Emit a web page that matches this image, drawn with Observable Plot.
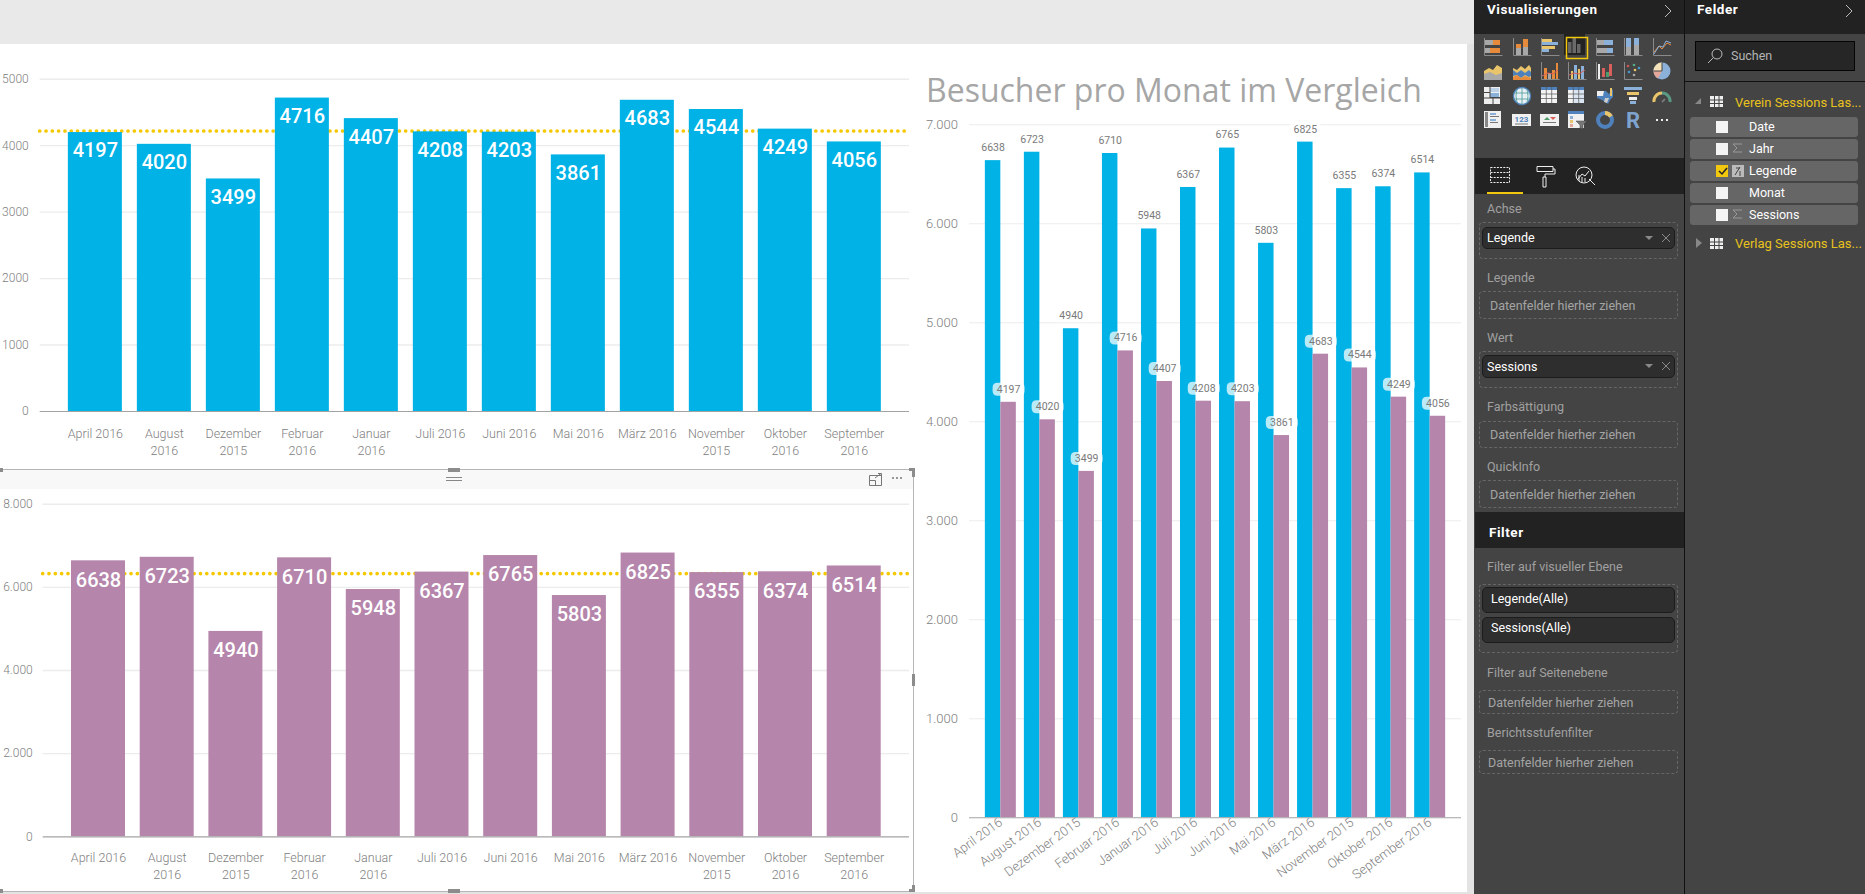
<!DOCTYPE html>
<html lang="de">
<head>
<meta charset="utf-8">
<title>Besucher pro Monat im Vergleich</title>
<script src="https://cdn.jsdelivr.net/npm/d3@7"></script>
<script src="https://cdn.jsdelivr.net/npm/@observablehq/plot@0.6"></script>
<style>
html,body{margin:0;padding:0;background:#e9e9e9;}
#page{position:relative;width:1865px;height:894px;overflow:hidden;background:#e3e3e3;font-family:Roboto,sans-serif;}
#page>*{position:absolute;}
.abs{position:absolute;box-sizing:border-box;}
.t{position:absolute;white-space:nowrap;transform:translateY(-50%);font-family:Roboto,sans-serif;font-size:12.5px;line-height:1;}
.lab{color:#a0a0a0;}
.hint{color:#a4a4a4;}
.dash{position:absolute;box-sizing:border-box;border:1px dashed #666;border-radius:4px;}
.pill{position:absolute;box-sizing:border-box;background:#2e2e2e;border:1px solid #1c1c1c;border-radius:5px;}
.row{position:absolute;box-sizing:border-box;left:1690px;width:168px;height:20px;background:#666;border-radius:3px;}
.cb{position:absolute;left:1716px;width:12px;height:12px;background:#f4f4f4;}
.h{position:absolute;background:#8c8c8c;}
svg{display:block;}
</style>
</head>
<body>
<div id="page"></div>
<script>
// ---------- data ----------
const months = ["April 2016","August 2016","Dezember 2015","Februar 2016","Januar 2016","Juli 2016","Juni 2016","Mai 2016","März 2016","November 2015","Oktober 2016","September 2016"];
const wrappedMonths = ["April 2016","August\n2016","Dezember\n2015","Februar\n2016","Januar\n2016","Juli 2016","Juni 2016","Mai 2016","März 2016","November\n2015","Oktober\n2016","September\n2016"];
const vereinSessions = [4197,4020,3499,4716,4407,4208,4203,3861,4683,4544,4249,4056];
const verlagSessions = [6638,6723,4940,6710,5948,6367,6765,5803,6825,6355,6374,6514];
const ticksTop = [0,1000,2000,3000,4000,5000];
const ticksBottom = [0,2000,4000,6000,8000];
const ticksCompare = [0,1000,2000,3000,4000,5000,6000,7000];

const BLUE = "#01b2e6", PURPLE = "#b585ab", GOLD = "#f5c800", GRID = "#ececec", AXIS = "#a3a3a3", TICK = "#808080";
const FONT = "Roboto, sans-serif";
const de = d3.formatLocale({thousands:".",grouping:[3],decimal:","}).format(",");
const wrapOf = new Map(months.map((m,i)=>[m,wrappedMonths[i]]));
const rows = months.map((m,i)=>({month:m, verein:vereinSessions[i], verlag:verlagSessions[i]}));
const page = document.getElementById("page");

function place(el,left,top){el.style.left=left+"px";el.style.top=top+"px";el.style.position="absolute";page.appendChild(el);return el;}
function add(html){const d=document.createElement("div");d.innerHTML=html;while(d.firstChild)page.appendChild(d.firstChild);}

// ---------- page chrome behind charts ----------
add(`<div class="abs" style="left:0;top:0;width:1474px;height:44px;background:#e9e9e9"></div>
<div class="abs" style="left:0;top:44px;width:1467px;height:848px;background:#fff"></div>
<div class="abs" style="left:0;top:469px;width:914px;height:20px;background:#f8f8f8"></div>`);

// ---------- single-series column chart ----------
function columns({key,color,domain,ticks,fmt,left,top,width,height,mt,mb,ml,mr,pi,po,tickPad,xPad,labelDy}){
  const mean = d3.mean(rows,d=>d[key]);
  const p = Plot.plot({
    width,height,marginTop:mt,marginBottom:mb,marginLeft:ml,marginRight:mr,
    style:{background:"transparent",fontFamily:FONT,overflow:"visible"},
    x:{domain:months,paddingInner:pi,paddingOuter:po,round:false,label:null},
    y:{domain,label:null},
    marks:[
      Plot.ruleY(ticks.filter(t=>t>0),{stroke:GRID,strokeWidth:1.4}),
      Plot.ruleY([mean],{stroke:GOLD,strokeWidth:3.7,strokeDasharray:"0.01,6.3",strokeLinecap:"round"}),
      Plot.barY(rows,{x:"month",y:key,fill:color}),
      Plot.ruleY([0],{stroke:AXIS,strokeWidth:1.2}),
      Plot.text(rows,{x:"month",y:key,text:d=>String(d[key]),dy:labelDy,lineAnchor:"middle",fill:"#fff",fontSize:20,fontWeight:500}),
      Plot.axisY({ticks,tickFormat:fmt,tickSize:0,tickPadding:tickPad,fontSize:12,fontWeight:300,fill:TICK,label:null}),
      Plot.axisX({tickSize:0,tickPadding:xPad,tickFormat:d=>wrapOf.get(d),fontSize:12.5,fontWeight:300,fill:TICK,lineHeight:1.36,label:null})
    ]
  });
  place(p,left,top);
}

columns({key:"verein",color:BLUE,domain:[0,5000],ticks:ticksTop,fmt:d3.format("d"),
  left:0,top:60,width:914,height:405,mt:18.7,mb:54,ml:39.7,mr:5,pi:0.217,po:0.408,tickPad:11.5,xPad:14,labelDy:18.5});
columns({key:"verlag",color:PURPLE,domain:[0,8000],ticks:ticksBottom,fmt:de,
  left:0,top:490,width:914,height:400,mt:13.7,mb:53.7,ml:42.7,mr:5,pi:0.214,po:0.412,tickPad:10.5,xPad:13,labelDy:19.3});

// ---------- compared column chart ----------
const pillW = 32, pillH = 13;
const pill = {draw(ctx){
  const w=pillW/2,h=pillH/2,r=5;
  ctx.moveTo(-w+r,-h);ctx.lineTo(w-r,-h);ctx.quadraticCurveTo(w,-h,w,-h+r);ctx.lineTo(w,h-r);ctx.quadraticCurveTo(w,h,w-r,h);
  ctx.lineTo(-w+r,h);ctx.quadraticCurveTo(-w,h,-w,h-r);ctx.lineTo(-w,-h+r);ctx.quadraticCurveTo(-w,-h,-w+r,-h);ctx.closePath();
}};
const shift = 7.75;
const compare = Plot.plot({
  width:550,height:785,marginTop:19.3,marginBottom:72.7,marginLeft:55,marginRight:3,
  style:{background:"transparent",fontFamily:FONT,overflow:"visible"},
  x:{domain:months,paddingInner:0.603,paddingOuter:0.6045,round:false,label:null},
  y:{domain:[0,7000],label:null},
  marks:[
    Plot.ruleY(ticksCompare.filter(t=>t>0),{stroke:GRID,strokeWidth:1.1}),
    Plot.barY(rows,{x:"month",y:"verlag",fill:BLUE,dx:-shift}),
    Plot.barY(rows,{x:"month",y:"verein",fill:PURPLE,dx:shift}),
    Plot.ruleY([0],{stroke:AXIS,strokeWidth:1.1}),
    Plot.dot(rows,{x:"month",y:"verlag",symbol:pill,fill:"#fff",fillOpacity:0.75,stroke:"none",dx:-shift,dy:-13}),
    Plot.dot(rows,{x:"month",y:"verein",symbol:pill,fill:"#fff",fillOpacity:0.72,stroke:"none",dx:shift,dy:-13}),
    Plot.text(rows,{x:"month",y:"verlag",text:d=>String(d.verlag),dx:-shift,dy:-13,lineAnchor:"middle",fill:"#7a7a7a",fontSize:10.5,fontWeight:400}),
    Plot.text(rows,{x:"month",y:"verein",text:d=>String(d.verein),dx:shift,dy:-13,lineAnchor:"middle",fill:"#7a7a7a",fontSize:10.5,fontWeight:400}),
    Plot.axisY({ticks:ticksCompare,tickFormat:de,tickSize:0,tickPadding:11.5,fontSize:13,fontWeight:300,fill:TICK,label:null}),
    Plot.axisX({tickSize:0,tickPadding:3,tickRotate:-36,fontSize:13,fontWeight:300,fill:TICK,label:null})
  ]
});
place(compare,914,105);

add(`<div class="t" style="left:926px;top:90px;font-family:'Open Sans',sans-serif;font-weight:400;font-size:32px;color:#a6a6a6;">Besucher pro Monat im Vergleich</div>`);

// ---------- selection frame ----------
add(`<div class="abs" style="left:0;top:469px;width:914px;height:423px;border-top:1px solid #b5b5b5;border-bottom:1px solid #b5b5b5;border-right:1px solid #b5b5b5"></div>
<div class="h" style="left:448px;top:468px;width:12px;height:4px"></div>
<div class="h" style="left:448px;top:889px;width:12px;height:4px"></div>
<div class="h" style="left:912px;top:674px;width:3px;height:12px"></div>
<div class="h" style="left:0;top:468px;width:3px;height:4px"></div>
<div class="h" style="left:0;top:889px;width:3px;height:4px"></div>
<div class="h" style="left:909px;top:468px;width:6px;height:3px"></div>
<div class="h" style="left:912px;top:468px;width:3px;height:9px"></div>
<div class="h" style="left:909px;top:889px;width:6px;height:3px"></div>
<div class="h" style="left:912px;top:885px;width:3px;height:7px"></div>
<div class="abs" style="left:446px;top:477px;width:16px;height:4px;border-top:1px solid #888;border-bottom:1px solid #888"></div>
<svg style="position:absolute;left:868px;top:472px" width="40" height="14" viewBox="0 0 40 14" fill="none" stroke="#777">
<path d="M1.5 3.5h12v10h-12zM1.5 8.5h6v5M7 6l6-4.5M10 1.5h3.5v3"/><g fill="#777" stroke="none"><circle cx="25" cy="6" r="1"/><circle cx="29" cy="6" r="1"/><circle cx="33" cy="6" r="1"/></g></svg>`);

// ---------- side panels ----------
const hint = "Datenfelder hierher ziehen";
add(`<div class="abs" style="left:1474px;top:0;width:391px;height:894px;background:#444"></div>
<div class="abs" style="left:1474px;top:0;width:391px;height:34px;background:#222"></div>
<div class="abs" style="left:1684px;top:0;width:1px;height:894px;background:#111"></div>
<div class="t" style="left:1487px;top:10px;color:#fff;font-weight:700;font-family:Roboto,sans-serif;font-size:13.5px;letter-spacing:.55px">Visualisierungen</div>
<div class="t" style="left:1697px;top:10px;color:#fff;font-weight:700;font-family:Roboto,sans-serif;font-size:13.5px;letter-spacing:.55px">Felder</div>
<svg style="position:absolute;left:1664px;top:4px" width="190" height="14" fill="none" stroke="#bbb"><path d="M1 1l6 6-6 6M182 1l6 6-6 6"/></svg>
<div class="abs" style="left:1685px;top:34px;width:180px;height:48px;background:#444;border-bottom:1px solid #111"></div>
<div class="abs" style="left:1695px;top:41px;width:160px;height:30px;background:#262626;border:1px solid #050505"></div>
<svg style="position:absolute;left:1706px;top:47px" width="18" height="18" fill="none" stroke="#bbb"><circle cx="11" cy="7" r="5"/><path d="M7.5 10.5L2 16"/></svg>
<div class="t" style="left:1731px;top:56px;color:#b5b5b5">Suchen</div>

<div class="abs" style="left:1475px;top:158px;width:209px;height:36px;background:#222"></div>
<div class="abs" style="left:1487px;top:192px;width:36px;height:2px;background:#f2c80f"></div>
<svg style="position:absolute;left:1490px;top:164px" width="110" height="24" fill="none" stroke="#eee">
<path d="M0.5 3.5h19v15h-19z" stroke-dasharray="2 1.2"/><path d="M0.5 8.5h19M0.5 13.5h19" stroke-dasharray="2 1.2"/>
<path d="M47 2.5h16v5h-16zM63 5h2v5h-10v3M53 13h3v10h-3z" stroke="#eee"/>
<circle cx="94" cy="11" r="8"/><path d="M88 15l4-5 3 2 4-5M89 11v6M92 13v5M95 14v4M99 15l6 6"/></svg>

<div class="t lab" style="left:1487px;top:209px">Achse</div>
<div class="dash" style="left:1479px;top:222px;width:199px;height:37px"></div>
<div class="pill" style="left:1482px;top:227px;width:193px;height:22px"></div>
<div class="t" style="left:1487px;top:238px;color:#fff">Legende</div>

<div class="t lab" style="left:1487px;top:278px">Legende</div>
<div class="dash" style="left:1479px;top:291px;width:199px;height:28px"></div>
<div class="t hint" style="left:1490px;top:306px">${hint}</div>

<div class="t lab" style="left:1487px;top:338px">Wert</div>
<div class="dash" style="left:1479px;top:351px;width:199px;height:37px"></div>
<div class="pill" style="left:1482px;top:355px;width:193px;height:23px"></div>
<div class="t" style="left:1487px;top:367px;color:#fff">Sessions</div>

<div class="t lab" style="left:1487px;top:407px">Farbsättigung</div>
<div class="dash" style="left:1479px;top:421px;width:199px;height:27px"></div>
<div class="t hint" style="left:1490px;top:435px">${hint}</div>

<div class="t lab" style="left:1487px;top:467px">QuickInfo</div>
<div class="dash" style="left:1479px;top:480px;width:199px;height:28px"></div>
<div class="t hint" style="left:1490px;top:495px">${hint}</div>

<div class="abs" style="left:1475px;top:512px;width:209px;height:36px;background:#222"></div>
<div class="t" style="left:1489px;top:533px;color:#fff;font-weight:700;font-family:Roboto,sans-serif;font-size:13.5px;letter-spacing:.55px">Filter</div>

<div class="t lab" style="left:1487px;top:567px">Filter auf visueller Ebene</div>
<div class="dash" style="left:1479px;top:584px;width:199px;height:69px"></div>
<div class="pill" style="left:1482px;top:587px;width:193px;height:26px"></div>
<div class="pill" style="left:1482px;top:617px;width:193px;height:26px"></div>
<div class="t" style="left:1491px;top:599px;color:#fff">Legende(Alle)</div>
<div class="t" style="left:1491px;top:628px;color:#fff">Sessions(Alle)</div>

<div class="t lab" style="left:1487px;top:673px">Filter auf Seitenebene</div>
<div class="dash" style="left:1479px;top:690px;width:199px;height:24px"></div>
<div class="t hint" style="left:1488px;top:703px">${hint}</div>

<div class="t lab" style="left:1487px;top:733px">Berichtsstufenfilter</div>
<div class="dash" style="left:1479px;top:750px;width:199px;height:24px"></div>
<div class="t hint" style="left:1488px;top:763px">${hint}</div>

<svg style="position:absolute;left:1640px;top:230px" width="36" height="150" fill="none" stroke="#8a8a8a">
<path d="M5 6h8l-4 4z" fill="#8a8a8a" stroke="none"/><path d="M22 4l8 8M30 4l-8 8"/>
<path d="M5 134h8l-4 4z" fill="#8a8a8a" stroke="none"/><path d="M22 132l8 8M30 132l-8 8"/></svg>

<div class="t" style="left:1735px;top:102px;color:#e8c21c;font-size:13px">Verein Sessions Las...</div>
<div class="t" style="left:1735px;top:243px;color:#e8c21c;font-size:13px">Verlag Sessions Las...</div>
<svg style="position:absolute;left:1694px;top:96px" width="30" height="156">
<path d="M7 2v6h-6z" fill="#888"/><path d="M2 142l6 5-6 5z" fill="#888"/>
<g id="tbl"><rect x="16" y="0" width="13" height="11" fill="#eee"/><path d="M16 4h13M16 7.500h13M20.500 0v11M25 0v11" stroke="#444"/></g>
<g transform="translate(0,142)"><rect x="16" y="0" width="13" height="11" fill="#eee"/><path d="M16 4h13M16 7.500h13M20.500 0v11M25 0v11" stroke="#444"/></g></svg>
${[["Date",117],["Jahr",139],["Legende",161],["Monat",183],["Sessions",205]].map(([n,y])=>`
<div class="row" style="top:${y}px"></div>
<div class="cb" style="top:${y+4}px;${n==="Legende"?"background:#f2c80f":""}"></div>
<div class="t" style="left:1749px;top:${y+10}px;color:#fff">${n}</div>`).join("")}
<svg style="position:absolute;left:1716px;top:139px" width="30" height="90" fill="none">
<path d="M3 32l3 3 5-6" stroke="#222" stroke-width="1.5"/>
<path d="M26 5h-9l4 4-4 4h9M26 71h-9l4 4-4 4h9" stroke="#999"/>
<rect x="16" y="26" width="12" height="12" fill="#bbb"/><path d="M19 36l5-8M20 29h4M24 32v5" stroke="#444"/></svg>`);

// ---------- visualisation icon palette ----------
const O="#e68a3c",B="#8bb0d9",G="#a8a8a8",W="#f0f0f0",Y="#e9c46a",D="#8a8a8a";
const r=(x,y,w,h,f)=>`<rect x="${x}" y="${y}" width="${w}" height="${h}" fill="${f}"/>`;
const base=`<path d="M0.500 0v17.500h18" stroke="${D}" fill="none"/>`;
const grid=(f,hd)=>r(0,0,16,16,"#f4f4f4")+(hd?r(0,0,16,3,hd):"")+`<path d="M0 ${hd?7:5.300}h16M0 11.500h16M5.300 0v16M10.700 0v16" stroke="#555" stroke-width=".7"/>`;
const icons=[
 base+r(1,2,8,5,G)+r(9,2,7,5,O)+r(1,10,5,5,G)+r(6,10,10,5,O),
 base+r(3,10,5,7,G)+r(3,6,5,4,O)+r(10,9,5,8,G)+r(10,1,5,8,O),
 base+r(1,1,10,3,Y)+r(1,4,16,3,B)+r(1,8,13,3,Y)+r(1,11,7,3,B),
 r(-4,-4,21,21,"#222")+r(0,4,3.500,11,"#666")+r(4.500,0,3.500,15,"#6a6a6a")+r(9,6,3.500,9,"#666"),
 base+r(1,2,7,5,G)+r(8,2,9,5,B)+r(1,10,10,5,G)+r(11,10,6,5,B),
 base+r(2,9,5,8,G)+r(2,0,5,9,B)+r(10,7,5,10,G)+r(10,0,5,7,B),
 base+`<path d="M1 14l5-6 3 3 5-6 4 2" stroke="${O}" fill="none"/><path d="M1 16l5-8 4 1 3-6 5 2" stroke="${B}" fill="none"/>`,
 `<path d="M0 18V9l5-3 4 2 4-5 5 3v12z" fill="${Y}"/><path d="M0 18v-6l6-2 6 3 6-2v7z" fill="${G}"/>`,
 `<path d="M0 18V6l4 2 4-4 4 3 4-4 2 3v12z" fill="${Y}"/><path d="M0 14V8l4 3 4-3 4 3 4-3 2 2v4l-2 1-4-2-4 3-4-3z" fill="#4f81bd"/><path d="M0 18v-3l4-2 4 3 4-2 6 2v2z" fill="${O}"/>`,
 base+r(3,6,3,11,O)+r(7,11,3,6,G)+r(11,8,3,9,O)+r(15,1,2,16,O)+`<path d="M1 14l6-3 5 1 5-4" stroke="#d9605a" fill="none"/>`,
 base+r(3,9,2,8,Y)+r(6,3,3,14,B)+r(10,7,2,10,Y)+r(13,4,3,13,B)+`<path d="M1 13l5-2 5 1 6-4" stroke="#d9605a" fill="none"/>`,
 base+r(2,2,2,15,W)+r(6,6,3,9,"#d9605a")+r(10,10,3,5,"#4f9a6a")+r(13,2,3,12,"#d9605a"),
 base+`<circle cx="4" cy="4" r="1.300" fill="#c55"/><circle cx="10" cy="3" r="1.300" fill="#5a8"/><circle cx="15" cy="6" r="1.300" fill="#49c"/><circle cx="5" cy="10" r="1.300" fill="#49c"/><circle cx="11" cy="8" r="1.300" fill="${Y}"/><circle cx="10" cy="13" r="1.300" fill="${G}"/>`,
 `<circle cx="9" cy="9" r="8.500" fill="${B}"/><path d="M9 9V.5A8.500 8.500 0 0 0 .5 9z" fill="#f5e2b8"/><path d="M9 9H.5A8.500 8.500 0 0 0 5 16.500z" fill="#e4a79a"/><path d="M9 9V.5M9 9H.5" stroke="#444"/>`,
 r(0,0,16,17,"#eee")+r(6,1,4,4,"#bcd0e8")+r(10,1,5,4,"#bcd0e8")+r(6,6,9,4,B)+`<path d="M0 5.500h6M6 10.500h10M0 11h16M6 0v11M9 11v6" stroke="#444"/>`,
 `<circle cx="9" cy="9" r="8.500" fill="#e8f2f4" stroke="#4f81bd" stroke-width="1.300"/><path d="M.5 6h17M.5 12h17M9 .5v17M4 2q-2 7 0 14M14 2q2 7 0 14" stroke="#4f9a9a" fill="none" stroke-width=".8"/>`,
 grid(W,"#4f81bd"),
 r(0,0,16,16,"#dbe5f1")+r(0,0,16,3,"#4f81bd")+r(0,3,5,13,"#f4f4f4")+`<path d="M0 7h16M0 11.500h16M5.300 0v16M10.700 0v16" stroke="#555" stroke-width=".7"/>`,
 `<path d="M1 4h9l3 3 4-5v8l-3 3-2 4-6-4-5-2z" fill="#4f81bd"/><path d="M1 4h7l-1 5H1z" fill="#eee"/><path d="M9 11h4l-2 5-3-1z" fill="#ccc"/><path d="M14 1h2v8h-2z" fill="${Y}"/>`,
 r(0,0,18,3,B)+r(3,5,12,3,Y)+r(5,10,8,3,"#eee")+r(6,14,6,3,B),
 `<path d="M1 15A8 8 0 0 1 9 6" stroke="${Y}" stroke-width="3" fill="none"/><path d="M9 6a8 8 0 0 1 8 9" stroke="#5a9a85" stroke-width="3" fill="none"/><path d="M9 15l3-3" stroke="#777" stroke-width="2"/>`,
 r(0,0,17,17,"#f0f0f0")+r(1,1,3,15,"#888")+r(6,2,6,2,B)+r(6,5,9,1,"#777")+r(6,8,6,2,B)+r(6,11,8,1,"#777"),
 r(-1,3,19,12,"#f0f0f0")+`<text x="8.500" y="11" text-anchor="middle" font-family="Roboto,sans-serif" font-size="8" font-weight="700" fill="#4f81bd">123</text>`+r(2,12.500,13,1,"#777"),
 r(-1,3,19,12,"#f0f0f0")+`<path d="M3 9l3-3 3 3z" fill="#4f9a6a"/><path d="M9 6h6l-3 3z" fill="#d9605a"/>`+r(2,11,13,1,"#777"),
 r(0,0,16,17,"#f0f0f0")+r(0,0,16,3,"#4f81bd")+r(2,5,3,3,B)+r(2,9,3,3,Y)+r(2,13,3,3,"#e4a79a")+`<path d="M8 10h11l-4 4v4l-3-1v-3z" fill="#777" stroke="#444" stroke-width=".5"/>`,
 `<circle cx="9" cy="9" r="7" fill="none" stroke="#4f81bd" stroke-width="4"/><path d="M9 2a7 7 0 0 1 6 3.500" fill="none" stroke="${Y}" stroke-width="4"/>`,
 `<text x="9" y="17" text-anchor="middle" font-family="Roboto,sans-serif" font-size="22" font-weight="700" fill="#7fa3cf">R</text>`,
 r(3,8,2,2,W)+r(8,8,2,2,W)+r(13,8,2,2,W)
];
const xs=[1493,1522,1550,1577,1605,1633,1662], ys=[47,71,96,120];
add(`<svg style="position:absolute;left:0;top:0;pointer-events:none" width="1865" height="140">${icons.map((ic,i)=>{
  const cx=xs[i%7],cy=ys[Math.floor(i/7)];
  return `<g transform="translate(${cx-9},${cy-9})">${ic}</g>`;
}).join("")}<rect x="1566.500" y="37.500" width="21" height="21" fill="none" stroke="#f2c80f" stroke-width="1.500"/></svg>`);
</script>
</body>
</html>
